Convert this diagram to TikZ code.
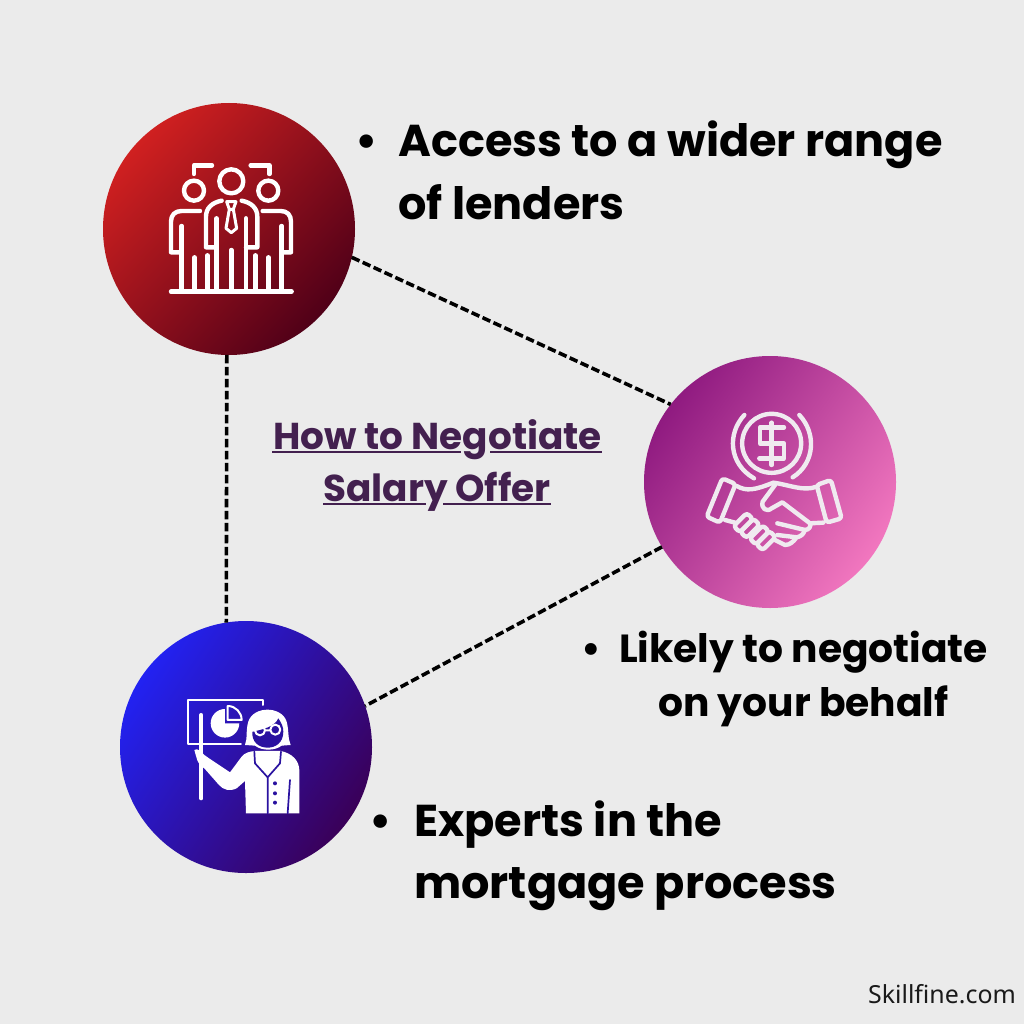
\documentclass[tikz,border=0pt]{standalone}
\usepackage{fontspec}
\setmainfont{Poppins}[BoldFont={Poppins Bold}]
\newfontfamily\markfont{Noto Sans}
\definecolor{bgc}{HTML}{EBEBEB}
\definecolor{titlec}{HTML}{43204F}
\definecolor{markc}{HTML}{1A1A1A}
\definecolor{r1}{HTML}{D02020}
\definecolor{r2}{HTML}{500018}
\definecolor{m1}{HTML}{8F1A80}
\definecolor{m2}{HTML}{F277BF}
\definecolor{b1}{HTML}{2222F2}
\definecolor{b2}{HTML}{3A0058}
\definecolor{facec}{HTML}{2A12A0}
\definecolor{hw}{HTML}{F0EAF0}
\begin{document}
\begin{tikzpicture}[x=1pt,y=-1pt,
  disc/.style={circle,minimum size=252pt,inner sep=0pt,outer sep=0pt},
  link/.style={draw=black,line width=3.6pt,dash pattern=on 8.5pt off 3.5pt},
  big/.style={anchor=base west,inner sep=0pt,font=\fontsize{44.6}{44.6}\selectfont\bfseries,text=black},
  mid/.style={anchor=base west,inner sep=0pt,font=\fontsize{39.2}{39.2}\selectfont\bfseries,text=black},
  ttl/.style={anchor=base west,inner sep=0pt,font=\fontsize{37.4}{37.4}\selectfont\bfseries,text=titlec},
  ulin/.style={draw=titlec,line width=2.6pt},
  ico/.style={draw=white,line width=4.4pt,line cap=round,line join=round},
  hand/.style={draw=hw,line width=4.4pt,line cap=round,line join=round},
  icot/.style={draw=white,line width=2pt,line cap=round,line join=round},
  icod/.style={draw=facec,line width=1.7pt,line cap=round,line join=round},
  icofill/.style={fill=white,draw=none}]
\useasboundingbox (0,0) rectangle (1024,1024);
\fill[bgc] (0,0) rectangle (1024,1024);
\node[disc,shading=axis,left color=r1,right color=r2,shading angle=47] (red) at (229,229) {};
\node[disc,shading=axis,left color=m1,right color=m2,shading angle=55] (mag) at (770,482) {};
\node[disc,shading=axis,left color=b1,right color=b2,shading angle=56] (blu) at (246,747) {};
\draw[link] (red.-13.4) -- (mag.142.4);
\draw[link] (mag.211.5) -- (blu.19.3);
\draw[link] (red.-91) -- (blu.99);
% people icon
\begin{scope}[shift={(100,100)},x=.3333pt,y=-.3333pt]
\draw[ico] (282,272) circle[radius=10pt] (394,244) circle[radius=12pt] (505,272) circle[radius=10pt];
\draw[ico] (282,222)--(282,196)--(336,196) (508,222)--(508,196)--(452,196);
\draw[ico] (213,575)--(575,575);
\draw[ico] (300,333)--(245,333) .. controls (225,333) and (213,345) .. (213,365)--(213,457)--(243,457);
\draw[ico] (245,378)--(245,575) (284,472)--(284,575) (322,466)--(322,575);
\draw[ico] (488,333)--(542,333) .. controls (562,333) and (573,345) .. (573,365)--(573,457)--(545,457);
\draw[ico] (545,378)--(545,575) (505,472)--(505,575) (466,466)--(466,575);
\draw[ico] (365,302) .. controls (335,308) and (318,325) .. (318,350)--(318,442)--(350,442);
\draw[ico] (350,355)--(350,575) (394,450)--(394,575) (438,355)--(438,575);
\draw[ico] (425,302) .. controls (455,308) and (472,325) .. (472,350)--(472,442)--(438,442);
\draw[icot,line width=3pt] (380,305)--(408,305)--(400,328)--(410,385)--(394,398)--(378,385)--(388,328)--cycle (388,328)--(400,328);
\end{scope}
% handshake icon
\begin{scope}[shift={(640,350)},x=.3333pt,y=-.3333pt]
\draw[hand] (395,280) circle[radius=29.5pt];
\draw[hand] (432,232)--(360,232)--(360,280)--(432,280)--(432,325)--(358,325) (395,218)--(395,345);
\draw[hand] (313,195) .. controls (262,250) and (265,340) .. (342,385);
\draw[hand] (478,195) .. controls (530,250) and (525,340) .. (458,382);
\draw[hand,rounded corners=3pt] (247,385)--(287,402)--(240,518)--(200,500)--cycle;
\draw[hand,rounded corners=3pt] (530,405)--(573,390)--(605,505)--(560,518)--cycle;
\draw[hand] (290,408) .. controls (320,425) and (345,420) .. (400,398) .. controls (450,405) and (490,425) .. (530,410);
\draw[hand] (405,405)--(368,455) .. controls (362,475) and (380,488) .. (395,475) -- (427,457) -- (510,520) .. controls (515,530) and (505,540) .. (495,540) -- (412,520);
\draw[hand] (510,520)--(550,518) (255,510)--(285,518);
\draw[hand] (495,540) .. controls (490,555) and (480,560) .. (470,562) -- (412,555)
  (470,562) .. controls (460,575) and (450,585) .. (435,585) -- (405,570);
\foreach \cx/\cy in {310/518, 330/535, 358/555, 378/572}{
  \draw[hand,rotate around={45:(\cx,\cy)},rounded corners=3pt] (\cx-28,\cy-13) rectangle (\cx+28,\cy+13);
}
\end{scope}
% presenter icon
\begin{scope}[shift={(115,615)},x=.3333pt,y=-.3333pt]
\draw[icot] (445,270)--(445,255)--(218,255)--(218,387)--(378,387);
\draw[ico,line width=4pt] (259,300)--(259,550);
\fill[icofill] (330,282) arc[start angle=90,delta angle=270,radius=14.3pt] -- (330,325) -- cycle;
\draw[icot] (338,273) -- (338,315) -- (380,315) arc[start angle=0,end angle=90,radius=14pt] -- cycle;
\fill[icofill] (390,390) .. controls (398,370) and (392,345) .. (400,320) .. controls (415,272) and (500,272) .. (515,320) .. controls (522,345) and (518,370) .. (527,390) -- (500,392) .. controls (480,408) and (440,408) .. (420,392) -- cycle;
\fill[facec] (412,350) .. controls (440,345) and (480,335) .. (490,310) .. controls (500,325) and (505,335) .. (505,350) .. controls (505,385) and (480,398) .. (458,398) .. controls (430,398) and (410,380) .. (412,350) -- cycle;
\draw[icot] (435,346) circle[radius=5pt] (481,344) circle[radius=5pt] (450,346)--(466,346) (420,346)--(408,346);
\fill[icofill] (238,405) .. controls (248,398) and (258,410) .. (268,420) -- (285,432) -- (345,472) -- (380,425) .. controls (390,412) and (405,410) .. (418,408) -- (498,408) .. controls (530,415) and (552,435) .. (553,465) -- (553,595) -- (393,595) -- (390,498) -- (365,520) .. controls (345,530) and (325,525) .. (312,510) -- (268,460) .. controls (245,450) and (245,425) .. (238,405) -- cycle;
\draw[icod] (418,410)--(420,445)--(458,487)--(495,445)--(498,410) (458,487)--(458,595) (525,495)--(518,595);
\fill[facec] (480,505) circle[radius=2pt] (480,535) circle[radius=2pt] (480,563) circle[radius=2pt];
\end{scope}
% texts
\node[big] (a0) at (355,157) {•};
\node[big] (a1) at (398,157) {Access to a wider range};
\node[big] (a2) at (398,219) {of lenders};
\node[mid] (l0) at (581,662) {•};
\node[mid] (l1) at (619,662) {Likely to negotiate};
\node[mid] (l2) at (658,716) {on your behalf};
\node[big] (e0) at (369,836) {•};
\node[big] (e1) at (414,836) {Experts in the};
\node[big] (e2) at (414,898) {mortgage process};
\node[ttl] (t1) at (273,449) {How to Negotiate};
\node[ttl] (t2) at (323,501) {Salary Offer};
\draw[ulin] (272,452)--(461,452) (490,452)--(602,452) (323,504)--(426,504) (443,504)--(551,504);
\node[anchor=base west,inner sep=0pt,text=markc,font=\markfont\fontsize{24.9}{24.9}\selectfont] (m) at (868,1003) {Skillfine.com};
\end{tikzpicture}
\end{document}
